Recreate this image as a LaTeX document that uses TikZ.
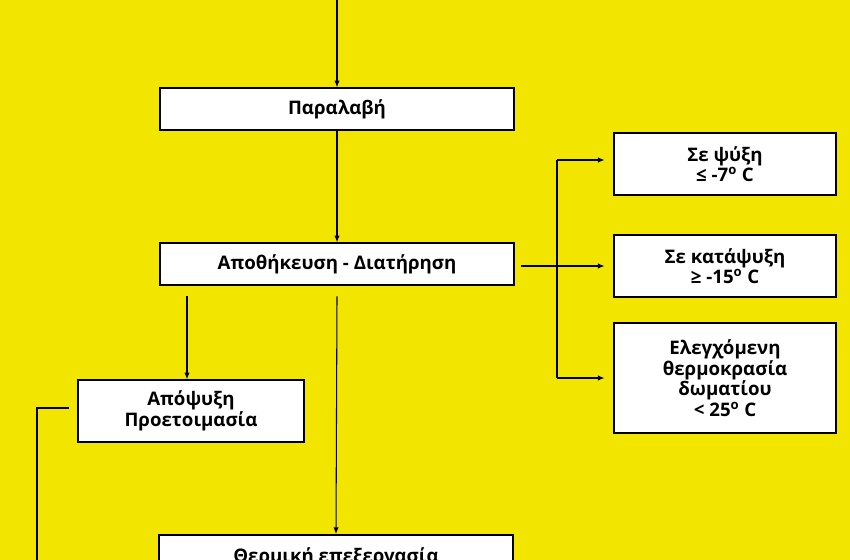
\documentclass[tikz,border=0pt]{standalone}
\usepackage{fontspec}
\setmainfont{Open Sans}
\usetikzlibrary{positioning}
\usetikzlibrary{arrows.meta}
\definecolor{bgyellow}{HTML}{F2E600}
\tikzstyle{stage} = [draw, line width=1.6pt, fill=white, rectangle, minimum height=31pt, minimum width=266pt, font=\fontsize{14}{15}\selectfont\bfseries, align=center]
\tikzstyle{store} = [draw, line width=1.6pt, fill=white, rectangle, minimum width=167pt, font=\fontsize{14}{14}\selectfont\bfseries, align=center, inner sep=2pt]
\tikzstyle{link} = [-{Latex[length=5pt,width=4pt]}, line width=0.8pt]

\begin{document}
\begin{tikzpicture}[x=0.75pt,y=-0.75pt]
		\fill [bgyellow] (0,0) rectangle (850,560);
		\useasboundingbox (0,0) rectangle (850,560);
		\clip (0,0) rectangle (850,560);
		\coordinate (start) at (337,0);
		\node [stage, name=receive] at (337,109) {Παραλαβή};
		\node [stage, name=storage] at (337,264) {Αποθήκευση - Διατήρηση};
		\node [store, name=chill, minimum height=46pt] at (725,164) {Σε ψύξη\\≤ -7\textsuperscript{o} C};
		\node [store, name=freeze, minimum height=46pt] at (725,266) {Σε κατάψυξη\\≥ -15\textsuperscript{o} C};
		\node [store, name=room, minimum height=83pt] at (725,378) {Ελεγχόμενη\\θερμοκρασία\\δωματίου\\< 25\textsuperscript{o} C};
		\node [store, name=thaw, minimum width=169pt, minimum height=46pt] at (191,411) {Απόψυξη\\Προετοιμασία};
		\node [stage, name=cook, anchor=north, minimum height=60pt, text depth=30pt] at (336,534) {Θερμική επεξεργασία};
		\coordinate (fork) at (557,266);
		\coordinate (down) at (37,560);
		
		\draw [link] (521,266) -- ([xshift=-6pt]freeze.west);
		\draw [link] (start) -- (receive);
		\draw [link] (receive) -- (storage);
		\draw [line width=0.8pt] (557,160) -- (557,378);
		\draw [link] (557,160) -- ([xshift=-6pt]chill.west |- 0,160);
		\draw [link] (557,378) -- ([xshift=-6pt]room.west |- 0,378);
		\draw [link] ([yshift=-8pt]storage.south -| 187,0) -- (thaw.north -| 187,0);
		\draw [link] ([yshift=-8pt]storage.south) -- (cook.north);
		\draw [line width=0.8pt] ([xshift=-6pt]thaw.west |- 0,408) -- (37,408) -- (down);
	\end{tikzpicture}
\end{document}
